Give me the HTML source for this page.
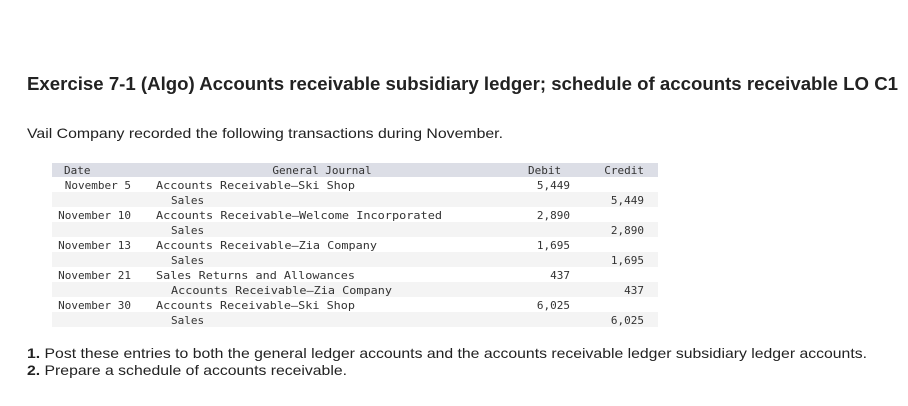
<!DOCTYPE html>
<html><head><meta charset="utf-8"><style>
body{margin:0;background:#fff;width:908px;height:406px;overflow:hidden}
svg{display:block}
.t{font-family:"Liberation Sans",sans-serif;fill:#222}
.m{font-family:"DejaVu Sans Mono","Liberation Mono",monospace;font-size:11px;fill:#333}
</style></head><body>
<svg width="908" height="406">
<text class="t" x="27" y="90" font-size="18" font-weight="bold" textLength="871" lengthAdjust="spacingAndGlyphs">Exercise 7-1 (Algo) Accounts receivable subsidiary ledger; schedule of accounts receivable LO C1</text>
<text class="t" x="27" y="138" font-size="14" textLength="476" lengthAdjust="spacingAndGlyphs">Vail Company recorded the following transactions during November.</text>
<g>
<rect x="52" y="163" width="606" height="14" fill="#dcdee6"/>
<rect x="52" y="192" width="606" height="15" fill="#f4f4f4"/>
<rect x="52" y="222" width="606" height="15" fill="#f4f4f4"/>
<rect x="52" y="252" width="606" height="15" fill="#f4f4f4"/>
<rect x="52" y="282" width="606" height="15" fill="#f4f4f4"/>
<rect x="52" y="312" width="606" height="15" fill="#f4f4f4"/>
<text class="m" x="64" y="174">Date</text>
<text class="m" x="322" y="174" text-anchor="middle">General Journal</text>
<text class="m" x="528" y="174">Debit</text>
<text class="m" x="644" y="174" text-anchor="end">Credit</text>
<g text-anchor="end">
<text class="m" x="131" y="189">November 5</text>
<text class="m" x="131" y="219">November 10</text>
<text class="m" x="131" y="249">November 13</text>
<text class="m" x="131" y="279">November 21</text>
<text class="m" x="131" y="309">November 30</text>
<text class="m" x="570" y="189">5,449</text>
<text class="m" x="570" y="219">2,890</text>
<text class="m" x="570" y="249">1,695</text>
<text class="m" x="570" y="279">437</text>
<text class="m" x="570" y="309">6,025</text>
<text class="m" x="644" y="204">5,449</text>
<text class="m" x="644" y="234">2,890</text>
<text class="m" x="644" y="264">1,695</text>
<text class="m" x="644" y="294">437</text>
<text class="m" x="644" y="324">6,025</text>
</g>
<text class="m" x="156" y="189" textLength="199" lengthAdjust="spacingAndGlyphs">Accounts Receivable—Ski Shop</text>
<text class="m" x="171" y="204">Sales</text>
<text class="m" x="156" y="219" textLength="286" lengthAdjust="spacingAndGlyphs">Accounts Receivable—Welcome Incorporated</text>
<text class="m" x="171" y="234">Sales</text>
<text class="m" x="156" y="249" textLength="221" lengthAdjust="spacingAndGlyphs">Accounts Receivable—Zia Company</text>
<text class="m" x="171" y="264">Sales</text>
<text class="m" x="156" y="279" textLength="199" lengthAdjust="spacingAndGlyphs">Sales Returns and Allowances</text>
<text class="m" x="171" y="294" textLength="221" lengthAdjust="spacingAndGlyphs">Accounts Receivable—Zia Company</text>
<text class="m" x="156" y="309" textLength="199" lengthAdjust="spacingAndGlyphs">Accounts Receivable—Ski Shop</text>
<text class="m" x="171" y="324">Sales</text>
</g>
<text class="t" x="27" y="358" font-size="14" textLength="840" lengthAdjust="spacingAndGlyphs"><tspan font-weight="bold">1.</tspan> Post these entries to both the general ledger accounts and the accounts receivable ledger subsidiary ledger accounts.</text>
<text class="t" x="27" y="375" font-size="14" textLength="320" lengthAdjust="spacingAndGlyphs"><tspan font-weight="bold">2.</tspan> Prepare a schedule of accounts receivable.</text>
</svg>
</body></html>
